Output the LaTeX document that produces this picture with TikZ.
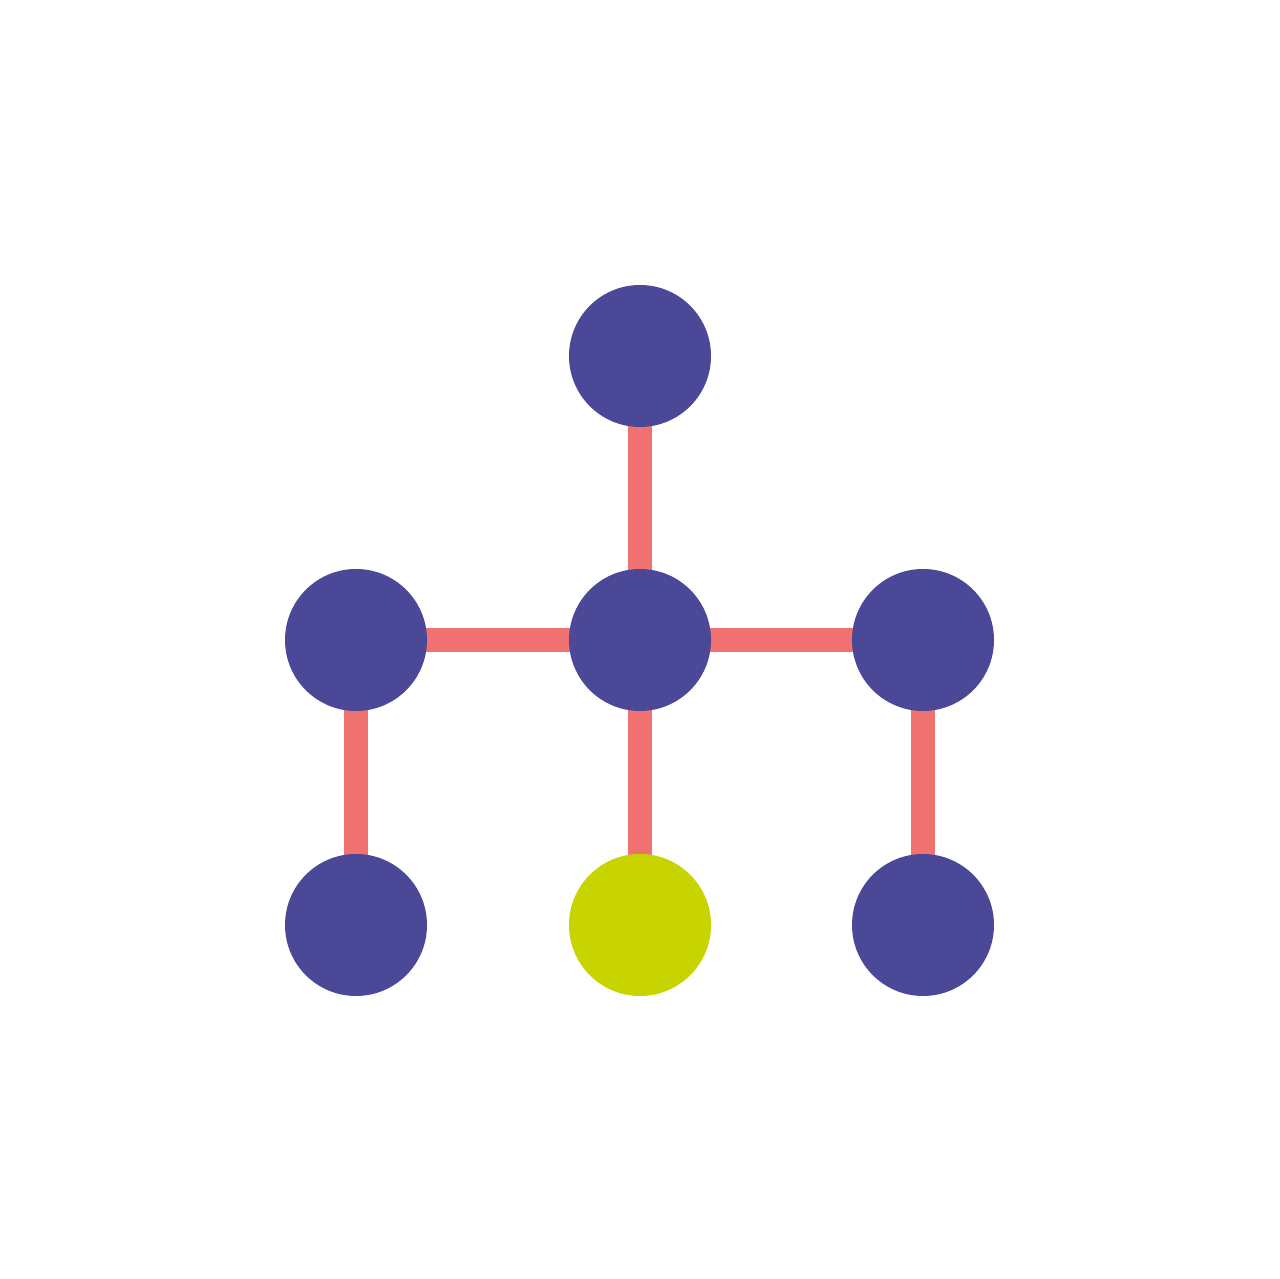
\documentclass[tikz,border=0pt]{standalone}
\begin{document}
\begin{tikzpicture}[x=1pt,y=1pt,
  dot/.style={circle,fill=nodepurple,minimum size=142pt,inner sep=0pt,draw=none},
  hot/.style={circle,fill=nodelime,minimum size=142pt,inner sep=0pt,draw=none},
  link/.style={draw=linkred,line width=24pt}]
\definecolor{nodepurple}{HTML}{4B4897}
\definecolor{linkred}{HTML}{EF7270}
\definecolor{nodelime}{HTML}{C8D400}
\useasboundingbox[fill=white] (0,0) rectangle (1280,1279);
\coordinate (ptop) at (640,923);
\coordinate (pl) at (356,639);
\coordinate (pc) at (640,639);
\coordinate (pr) at (923,639);
\coordinate (pbl) at (356,354);
\coordinate (pbc) at (640,354);
\coordinate (pbr) at (923,354);
\draw[link] (ptop) -- (pc);
\draw[link] (pl) -- (pr);
\draw[link] (pl) -- (pbl);
\draw[link] (pc) -- (pbc);
\draw[link] (pr) -- (pbr);
\node[dot] (top) at (ptop) {};
\node[dot] (left) at (pl) {};
\node[dot] (center) at (pc) {};
\node[dot] (right) at (pr) {};
\node[dot] (bl) at (pbl) {};
\node[hot] (bc) at (pbc) {};
\node[dot] (br) at (pbr) {};
\end{tikzpicture}
\end{document}
